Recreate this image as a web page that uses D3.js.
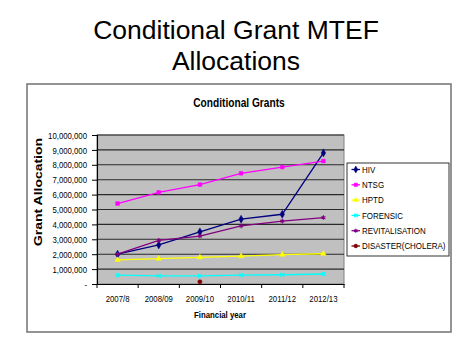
<!DOCTYPE html>
<html><head><meta charset="utf-8">
<script src="https://cdn.jsdelivr.net/npm/d3@7"></script>
<style>
html,body{margin:0;padding:0;background:#fff;}
svg{display:block;font-family:"Liberation Sans",Arial,sans-serif;}
</style></head>
<body>
<svg id="c" width="474" height="355"></svg>
<script>
// ---- data ----
const categories = ["2007/8","2008/09","2009/10","2010/11","2011/12","2012/13"];
const seriesNames = ["HIV","NTSG","HPTD","FORENSIC","REVITALISATION","DISASTER(CHOLERA)"];
const hiv        = [2000000, 2620000, 3500000, 4350000, 4680000, 8800000];
const ntsg       = [5400000, 6150000, 6670000, 7430000, 7850000, 8250000];
const hptd       = [1620000, 1700000, 1790000, 1870000, 1970000, 2030000];
const forensic   = [600000, 550000, 550000, 600000, 620000, 670000];
const revital    = [2000000, 2930000, 3220000, 3900000, 4220000, 4460000];
const disaster   = [null, null, 150000, null, null, null];
const yTicks = [0,1000000,2000000,3000000,4000000,5000000,6000000,7000000,8000000,9000000,10000000];

const seriesValues = [hiv, ntsg, hptd, forensic, revital, disaster];
const colors = ["#000080","#FF00FF","#FFFF00","#00FFFF","#800080","#800000"];
const symbols = [d3.symbolDiamond, d3.symbolSquare, d3.symbolTriangle, d3.symbolX || d3.symbolCross, d3.symbolAsterisk || d3.symbolStar, d3.symbolCircle];
const strokeSym = [false,false,false,!!d3.symbolX,!!d3.symbolAsterisk,false];
const symSize = [18,14,13,12,14,14];

const SX = 0.82; // horizontal squeeze of chart texts
const svg = d3.select("#c");

// slide title
svg.append("text").attr("x",236).attr("y",39).attr("text-anchor","middle")
  .style("font-size","26.5px").attr("fill","#000").text("Conditional Grant MTEF");
svg.append("text").attr("x",236).attr("y",69.5).attr("text-anchor","middle")
  .style("font-size","26.5px").attr("fill","#000").text("Allocations");

// chart frame
svg.append("rect").attr("x",27).attr("y",84).attr("width",424).attr("height",248)
  .attr("fill","#fff").attr("stroke","#7a7a7a").attr("stroke-width",1.6);

function sqText(sel, x, y, anchor, size, weight, txt){
  return sel.append("text").attr("transform",`translate(${x},${y}) scale(${SX},1)`)
    .attr("text-anchor",anchor).style("font-size",size+"px").style("font-weight",weight||"normal")
    .attr("fill","#000").text(txt);
}

sqText(svg, 239, 107, "middle", 12.4, "bold", "Conditional Grants");

const L = 97, R = 344, T = 135, B = 284;
const x = d3.scaleBand().domain(categories).range([L,R]).padding(0);
const xc = c => x(c) + x.bandwidth()/2;
const y = d3.scaleLinear().domain([0,10000000]).range([B,T]);

// plot area
svg.append("rect").attr("x",L).attr("y",T).attr("width",R-L).attr("height",B-T)
  .attr("fill","#c0c0c0").attr("stroke","#808080").attr("stroke-width",1);

// gridlines
svg.append("g").selectAll("line").data(yTicks.filter(d=>d>0)).join("line")
  .attr("x1",L).attr("x2",R).attr("y1",d=>y(d)).attr("y2",d=>y(d))
  .attr("stroke","#2a2a2a").attr("stroke-width",1.1);

// y axis
const fmt = d3.format(",");
const gy = svg.append("g").attr("transform",`translate(${L},0)`)
  .call(d3.axisLeft(y).tickValues(yTicks).tickSize(5).tickFormat(d=> d===0 ? "-" : fmt(d)));
gy.select(".domain").attr("stroke","#000").attr("stroke-width",1.1);
gy.selectAll(".tick line").attr("stroke","#000");
gy.selectAll(".tick text").attr("x",null).attr("dy","0.33em")
  .attr("transform",`translate(-10,0) scale(${SX},1)`)
  .style("font-size","9.5px").style("font-family","'Liberation Sans',Arial,sans-serif").attr("fill","#000");

// x axis
const gx = svg.append("g").attr("transform",`translate(0,${B})`)
  .call(d3.axisBottom(x).tickSize(0).tickPadding(0));
gx.select(".domain").attr("stroke","#000").attr("stroke-width",1.1);
gx.selectAll(".tick text").attr("y",null).attr("dy",null)
  .attr("transform",`translate(0,18) scale(${SX},1)`)
  .style("font-size","9.5px").style("font-family","'Liberation Sans',Arial,sans-serif").attr("fill","#000");
const bounds = categories.map(c=>x(c)).concat([R]);
gx.selectAll(".bt").data(bounds).join("line").attr("class","bt")
  .attr("x1",d=>d).attr("x2",d=>d).attr("y1",0).attr("y2",4).attr("stroke","#000");

// axis titles
sqText(svg, 220, 318, "middle", 9.5, "bold", "Financial year");
svg.append("text").attr("transform",`translate(42,192) rotate(-90) scale(1,${SX})`)
  .attr("text-anchor","middle").style("font-size","13px").style("font-weight","bold")
  .attr("textLength",108).attr("lengthAdjust","spacingAndGlyphs")
  .attr("fill","#000").text("Grant Allocation");

// lines
const line = d3.line().defined(d=>d.v!==null).x(d=>xc(d.c)).y(d=>y(d.v));
seriesValues.forEach((vals,i)=>{
  const pts = categories.map((c,j)=>({c, v: vals[j]}));
  svg.append("path").datum(pts).attr("d",line).attr("fill","none")
    .attr("stroke",colors[i]).attr("stroke-width",1.3);
  const sym = d3.symbol().type(symbols[i]).size(symSize[i]);
  svg.append("g").selectAll("path").data(pts.filter(d=>d.v!==null)).join("path")
    .attr("transform",d=>`translate(${xc(d.c)},${y(d.v)})`).attr("d",sym)
    .attr("fill",strokeSym[i] ? "none" : colors[i])
    .attr("stroke",colors[i]).attr("stroke-width",strokeSym[i]?1.2:0.5);
});

// legend
const lg = svg.append("g");
lg.append("rect").attr("x",347).attr("y",163).attr("width",102).attr("height",93)
  .attr("fill","#fff").attr("stroke","#333").attr("stroke-width",1);
seriesNames.forEach((n,i)=>{
  const yy = 169.5 + i*15.3;
  lg.append("line").attr("x1",351.5).attr("x2",360).attr("y1",yy).attr("y2",yy)
    .attr("stroke",colors[i]).attr("stroke-width",1.3);
  lg.append("path").attr("transform",`translate(355.8,${yy})`)
    .attr("d",d3.symbol().type(symbols[i]).size(symSize[i]*0.8))
    .attr("fill",strokeSym[i] ? "none" : colors[i]).attr("stroke",colors[i]).attr("stroke-width",strokeSym[i]?1.1:0.5);
  sqText(lg, 362, yy+3.3, "start", 9.7, "normal", n);
});
</script>
</body></html>
